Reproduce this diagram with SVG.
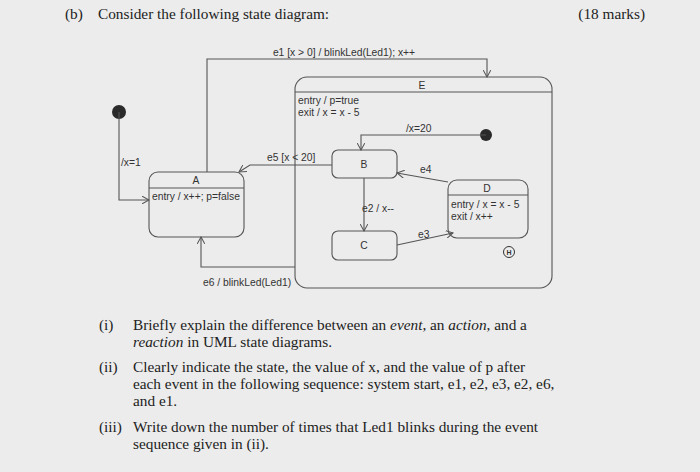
<svg xmlns="http://www.w3.org/2000/svg" width="700" height="472" viewBox="0 0 700 472">
<defs>
<marker id="ar" viewBox="0 0 10 10" refX="9" refY="5" markerWidth="8" markerHeight="8" orient="auto" markerUnits="userSpaceOnUse"><path d="M0,0 L9,5 L0,10" fill="none" stroke="#555" stroke-width="1.3"/></marker>
<style>
.s{fill:none;stroke:#555;stroke-width:1.1}
.c{fill:none;stroke:#555;stroke-width:1.1;marker-end:url(#ar)}
.t{font-family:"Liberation Sans",Arial,sans-serif;font-size:10.3px;fill:#333}
.m{text-anchor:middle}
.q{font-family:"Liberation Serif","Times New Roman",serif;font-size:15.3px;fill:#222}
</style>
</defs>
<rect width="700" height="472" fill="#ececec"/>
<text class="q" x="65" y="19">(b)</text>
<text class="q" x="98" y="19">Consider the following state diagram:</text>
<text class="q" x="645" y="19" text-anchor="end">(18 marks)</text>

<g id="init"><circle cx="119" cy="112" r="7" fill="#2a2a2a"/></g>
<g id="A"><rect class="s" x="149" y="172" width="95" height="65" rx="9"/><line class="s" x1="149" y1="188" x2="244" y2="188"/>
<text class="t m" x="196" y="184">A</text><text class="t" x="152" y="200">entry / x++; p=false</text></g>
<g id="E"><rect class="s" x="295" y="77" width="257" height="211" rx="12"/><line class="s" x1="295" y1="92" x2="552" y2="92"/>
<text class="t m" x="422" y="89">E</text><text class="t" x="298" y="104">entry / p=true</text><text class="t" x="298" y="116">exit / x = x - 5</text></g>
<g id="initE"><circle cx="486" cy="135" r="6" fill="#2a2a2a"/></g>
<g id="B"><rect class="s" x="332" y="150" width="65" height="28" rx="6"/><text class="t m" x="364" y="168">B</text></g>
<g id="C"><rect class="s" x="332" y="231" width="65" height="29" rx="6"/><text class="t m" x="364" y="249">C</text></g>
<g id="D"><rect class="s" x="448" y="180" width="80" height="58" rx="9"/><line class="s" x1="448" y1="195" x2="528" y2="195"/>
<text class="t m" x="487" y="192">D</text><text class="t" x="451" y="208">entry / x = x - 5</text><text class="t" x="451" y="220">exit / x++</text></g>
<g id="H"><circle cx="509" cy="252" r="5.5" fill="none" stroke="#333" stroke-width="1"/><text class="t m" x="509" y="255" style="font-size:7px;font-weight:bold">H</text></g>

<g id="connectors">
<path class="c" d="M119,112 V200 H149"/>
<text class="t" x="121" y="166">/x=1</text>
<path class="c" d="M207,172 V59 H487 V77"/>
<text class="t m" x="344" y="56">e1 [x &gt; 0] / blinkLed(Led1); x++</text>
<path class="c" d="M486,135 H361 V150"/>
<text class="t" x="406" y="132">/x=20</text>
<path class="c" d="M332,165 H250 L239,172"/>
<text class="t" x="267" y="161">e5 [x &lt; 20]</text>
<path class="c" d="M295,267 H201 V237"/>
<text class="t" x="203" y="286">e6 / blinkLed(Led1)</text>
<path class="c" d="M364,178 V231"/>
<text class="t" x="362" y="212">e2 / x--</text>
<path class="c" d="M448,182 L397,173"/>
<text class="t" x="420" y="173">e4</text>
<path class="c" d="M397,245 L453,233"/>
<text class="t" x="418" y="238">e3</text>
</g>

<text class="q" x="99" y="330">(i)</text>
<text class="q" x="133" y="330">Briefly explain the difference between an <tspan font-style="italic">event</tspan>, an <tspan font-style="italic">action</tspan>, and a</text>
<text class="q" x="133" y="347"><tspan font-style="italic">reaction</tspan> in UML state diagrams.</text>
<text class="q" x="99" y="372">(ii)</text>
<text class="q" x="133" y="372">Clearly indicate the state, the value of x, and the value of p after</text>
<text class="q" x="133" y="389">each event in the following sequence: system start, e1, e2, e3, e2, e6,</text>
<text class="q" x="133" y="406">and e1.</text>
<text class="q" x="99" y="432">(iii)</text>
<text class="q" x="133" y="432">Write down the number of times that Led1 blinks during the event</text>
<text class="q" x="133" y="449">sequence given in (ii).</text>
</svg>
